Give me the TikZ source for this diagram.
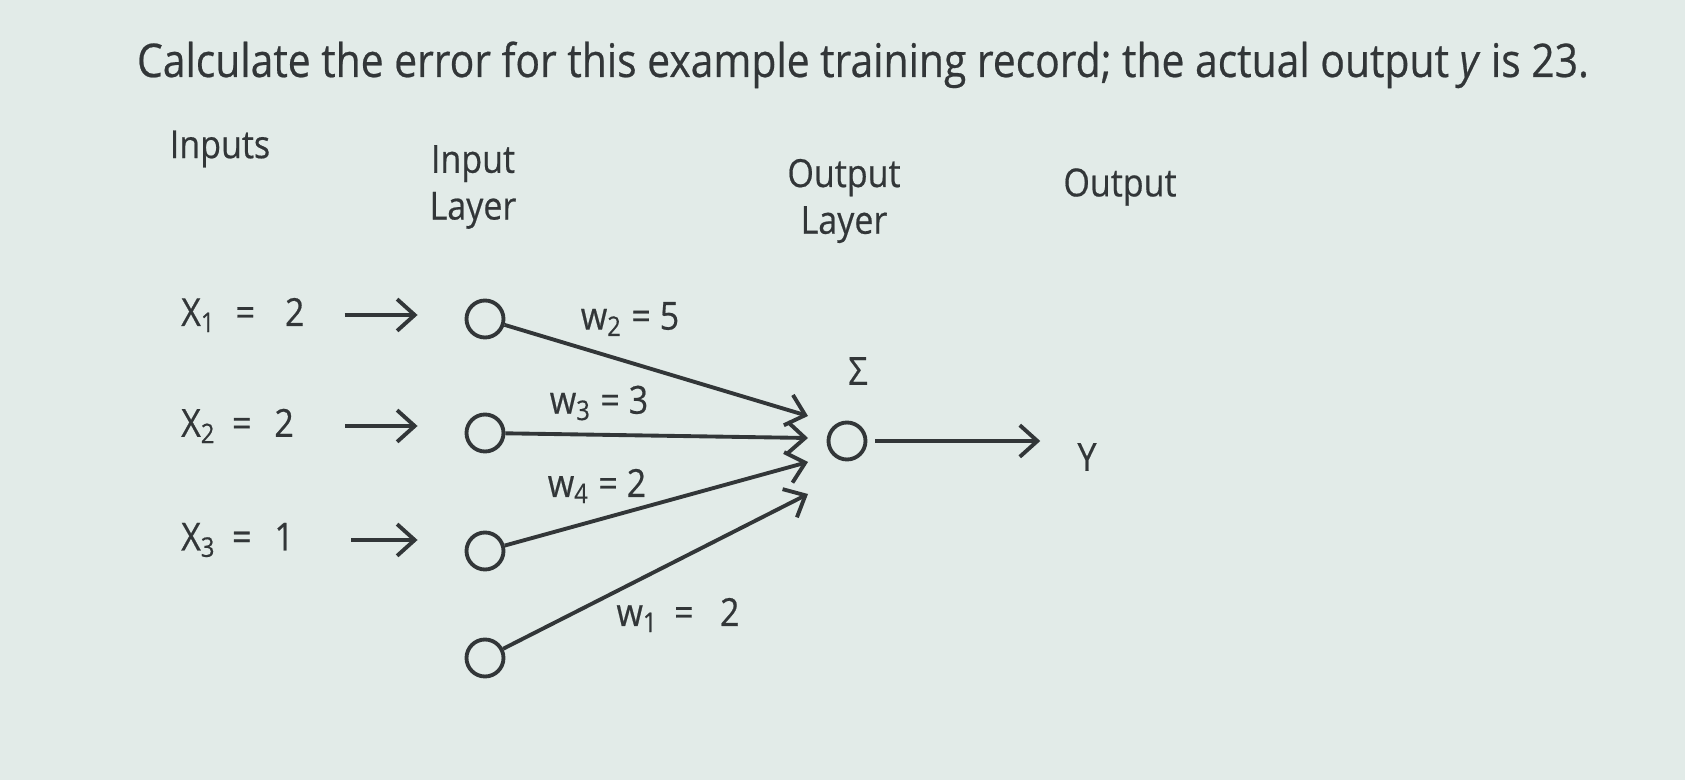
\documentclass[tikz,border=0pt]{standalone}
\usepackage{fontspec}
\setmainfont[FakeStretch=0.88,FakeBold=0.5]{Open Sans}
\usetikzlibrary{positioning}
\usetikzlibrary{arrows.meta}

\definecolor{paper}{RGB}{226,235,232}
\definecolor{ink}{RGB}{50,54,56}

\tikzset{
    txt/.style={text=ink, font=\fontsize{11}{13.3}\selectfont, inner sep=1pt},
    neuron/.style={draw=ink, circle, line width=1.1pt, minimum size=0.37cm, inner sep=0pt},
    link/.style={draw=ink, line width=1.1pt, -{Straight Barb[length=5pt,width=9pt,line width=1.1pt]}},
}

\begin{document}
\begin{tikzpicture}
    \fill[paper] (0,0) rectangle (16.85,-7.8);
    \useasboundingbox (0,0) rectangle (16.85,-7.8);

    % question
    \node(title) [txt, font=\fontsize{13.2}{15}\selectfont, anchor=base] at (8.63,-0.77)
        {Calculate the error for this example training record; the actual output \textit{y} is 23.};

    % column headings
    \node(hin)  [txt] at (2.20,-1.49) {Inputs};
    \node(hil)  [txt, align=center] at (4.73,-1.87) {Input\\Layer};
    \node(hol)  [txt, align=center] at (8.44,-2.01) {Output\\Layer};
    \node(hout) [txt] at (11.20,-1.87) {Output};

    % inputs
    \node(x1) [txt, anchor=west] at (1.77,-3.15) {X\textsubscript{1}\hspace{3pt} = \hspace{6pt}2};
    \node(x2) [txt, anchor=west] at (1.77,-4.26) {X\textsubscript{2}\hspace{2pt} = \hspace{4pt}2};
    \node(x3) [txt, anchor=west] at (1.77,-5.40) {X\textsubscript{3}\hspace{2pt} = \hspace{4pt}1};

    % neurons
    \node(in1) [neuron] at (4.85,-3.19) {};
    \node(in2) [neuron] at (4.85,-4.33) {};
    \node(in3) [neuron] at (4.85,-5.51) {};
    \node(in4) [neuron] at (4.85,-6.58) {};
    \node(out) [neuron] at (8.47,-4.41) {};
    \node(sum) [txt] at (8.58,-3.71) {Σ};
    \node(y)   [txt] at (10.87,-4.57) {Y};

    \coordinate(t1) at (8.08,-4.16);
    \coordinate(t2) at (8.08,-4.38);
    \coordinate(t3) at (8.08,-4.62);
    \coordinate(t4) at (8.08,-4.94);

    \draw[link, shorten <=0.36cm, shorten >=0.47cm] (x1.east) -- (x1.east -| in1.west);
    \draw[link, shorten <=0.47cm, shorten >=0.47cm] (x2.east) -- (x2.east -| in2.west);
    \draw[link, shorten <=0.53cm, shorten >=0.47cm] (x3.east) -- (x3.east -| in3.west);

    \draw[link] (in1) -- (t1);
    \draw[link] (in2) -- (t2);
    \draw[link] (in3) -- (t3);
    \draw[link] (in4) -- (t4);
    \draw[link, shorten <=0.08cm, shorten >=0.33cm] (out.east) -- (out.east -| y.west);

    % weights
    \node(w2) [txt] at (6.30,-3.19) {w\textsubscript{2} = 5};
    \node(w3) [txt] at (5.99,-4.03) {w\textsubscript{3} = 3};
    \node(w4) [txt] at (5.97,-4.86) {w\textsubscript{4} = 2};
    \node(w1) [txt] at (6.78,-6.15) {w\textsubscript{1}\hspace{2pt} = \hspace{5pt}2};
\end{tikzpicture}
\end{document}
